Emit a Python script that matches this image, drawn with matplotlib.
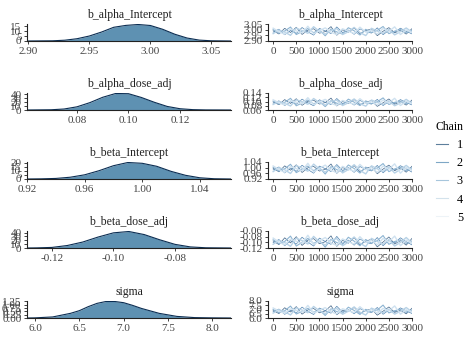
import numpy as np
import matplotlib
matplotlib.use("Agg")
import matplotlib.pyplot as plt
from matplotlib.lines import Line2D

plt.rcParams['font.family'] = ['Liberation Serif', 'DejaVu Serif']

params = ['b_alpha_Intercept', 'b_alpha_dose_adj', 'b_beta_Intercept', 'b_beta_dose_adj', 'sigma']

# density curves (x grid, density height)
dens_x = {
    'b_alpha_Intercept': [2.899, 2.92, 2.93, 2.94, 2.95, 2.96, 2.97, 2.98, 2.99, 3.00, 3.01, 3.02, 3.03, 3.04, 3.05, 3.066],
    'b_alpha_dose_adj': [0.0606, 0.07, 0.075, 0.08, 0.085, 0.09, 0.095, 0.10, 0.105, 0.11, 0.115, 0.12, 0.125, 0.13, 0.1398],
    'b_beta_Intercept': [0.92, 0.93, 0.94, 0.95, 0.96, 0.97, 0.98, 0.99, 1.00, 1.01, 1.02, 1.03, 1.04, 1.05, 1.0616],
    'b_beta_dose_adj': [-0.1281, -0.125, -0.12, -0.115, -0.11, -0.105, -0.10, -0.095, -0.09, -0.085, -0.08, -0.075, -0.07, -0.0618],
    'sigma': [5.91, 6.0, 6.2, 6.4, 6.5, 6.6, 6.7, 6.8, 6.9, 7.0, 7.1, 7.2, 7.4, 7.6, 7.8, 8.0, 8.21],
}
dens_y = {
    'b_alpha_Intercept': [0, 0.2, 0.8, 2.3, 5.0, 9.0, 13.8, 15.7, 16.6, 15.6, 11.8, 6.8, 3.0, 0.9, 0.2, 0],
    'b_alpha_dose_adj': [0, 0.6, 2.5, 8.0, 18.5, 32, 41.5, 41.0, 31.5, 19.5, 9.0, 3.2, 0.9, 0.2, 0],
    'b_beta_Intercept': [0, 0.2, 0.7, 2.2, 5.2, 10.3, 16.5, 20.5, 19.5, 15.8, 9.5, 4.6, 1.5, 0.3, 0],
    'b_beta_dose_adj': [0, 0.3, 1.5, 6.5, 15.5, 28.5, 39.5, 43.0, 35.0, 21.5, 9.5, 2.8, 0.6, 0],
    'sigma': [0, 0.01, 0.08, 0.35, 0.55, 0.85, 1.1, 1.24, 1.24, 1.15, 0.95, 0.72, 0.35, 0.12, 0.03, 0.01, 0],
}
dens_xticks = {
    'b_alpha_Intercept': [2.90, 2.95, 3.00, 3.05],
    'b_alpha_dose_adj': [0.08, 0.10, 0.12],
    'b_beta_Intercept': [0.92, 0.96, 1.00, 1.04],
    'b_beta_dose_adj': [-0.12, -0.10, -0.08],
    'sigma': [6.0, 6.5, 7.0, 7.5, 8.0],
}
dens_yticks = {
    'b_alpha_Intercept': [0, 5, 10, 15],
    'b_alpha_dose_adj': [0, 10, 20, 30, 40],
    'b_beta_Intercept': [0, 5, 10, 15, 20],
    'b_beta_dose_adj': [0, 10, 20, 30, 40],
    'sigma': [0.00, 0.25, 0.50, 0.75, 1.00, 1.25],
}
xfmt = {'b_alpha_Intercept': '%.2f', 'b_alpha_dose_adj': '%.2f', 'b_beta_Intercept': '%.2f',
        'b_beta_dose_adj': '%.2f', 'sigma': '%.1f'}
yfmt = {'b_alpha_Intercept': '%d', 'b_alpha_dose_adj': '%d', 'b_beta_Intercept': '%d',
        'b_beta_dose_adj': '%d', 'sigma': '%.2f'}

# trace panels: thinned chain values (5 chains each)
trace = {
    'b_alpha_Intercept': [
        [2.991, 2.962, 3.012, 2.975, 3.021, 2.958, 2.996, 3.008, 2.969, 2.983, 3.027, 2.951, 2.999, 2.978, 3.015, 2.964, 2.992, 3.005, 2.947, 2.986, 3.018, 2.972, 2.995, 2.961, 3.009],
        [2.978, 3.004, 2.955, 2.993, 2.967, 3.019, 2.981, 2.952, 3.011, 2.989, 2.966, 3.024, 2.974, 2.997, 2.959, 3.007, 2.983, 2.970, 3.016, 2.956, 2.994, 2.977, 3.013, 2.985, 2.963],
        [3.001, 2.969, 2.988, 3.023, 2.957, 2.984, 3.010, 2.973, 2.998, 2.946, 3.006, 2.980, 2.962, 3.017, 2.990, 2.953, 3.003, 2.976, 2.993, 3.028, 2.965, 2.987, 3.002, 2.971, 2.996],
        [2.965, 2.997, 2.979, 2.950, 3.014, 2.992, 2.968, 3.026, 2.985, 2.960, 2.994, 3.009, 2.957, 2.982, 3.020, 2.975, 2.948, 3.012, 2.988, 2.967, 3.004, 2.954, 2.983, 3.015, 2.979],
        [3.013, 2.982, 2.960, 3.006, 2.989, 2.972, 3.030, 2.963, 2.991, 3.016, 2.977, 2.958, 3.008, 2.986, 2.966, 3.022, 2.979, 2.995, 2.961, 3.011, 2.984, 3.025, 2.957, 2.998, 2.974],
    ],
    'b_alpha_dose_adj': [
        [0.098, 0.085, 0.109, 0.091, 0.113, 0.082, 0.101, 0.106, 0.088, 0.095, 0.116, 0.079, 0.100, 0.090, 0.110, 0.084, 0.097, 0.104, 0.077, 0.094, 0.112, 0.087, 0.099, 0.083, 0.107],
        [0.092, 0.103, 0.081, 0.099, 0.087, 0.111, 0.094, 0.080, 0.108, 0.096, 0.086, 0.114, 0.089, 0.101, 0.083, 0.105, 0.093, 0.088, 0.110, 0.081, 0.100, 0.091, 0.109, 0.095, 0.084],
        [0.102, 0.088, 0.096, 0.115, 0.080, 0.093, 0.107, 0.089, 0.100, 0.076, 0.104, 0.092, 0.085, 0.111, 0.097, 0.081, 0.103, 0.090, 0.099, 0.117, 0.086, 0.096, 0.102, 0.089, 0.098],
        [0.086, 0.100, 0.092, 0.079, 0.108, 0.099, 0.087, 0.114, 0.095, 0.083, 0.101, 0.106, 0.081, 0.094, 0.112, 0.090, 0.078, 0.107, 0.096, 0.086, 0.103, 0.080, 0.093, 0.110, 0.091],
        [0.108, 0.094, 0.084, 0.104, 0.097, 0.089, 0.118, 0.085, 0.098, 0.110, 0.091, 0.082, 0.105, 0.095, 0.087, 0.113, 0.092, 0.100, 0.084, 0.107, 0.094, 0.115, 0.081, 0.101, 0.090],
    ],
    'b_beta_Intercept': [
        [0.995, 0.971, 1.013, 0.982, 1.020, 0.966, 0.999, 1.009, 0.976, 0.988, 1.026, 0.960, 1.001, 0.984, 1.015, 0.970, 0.996, 1.006, 0.957, 0.990, 1.018, 0.979, 0.998, 0.968, 1.010],
        [0.984, 1.005, 0.963, 0.997, 0.974, 1.017, 0.987, 0.961, 1.011, 0.993, 0.973, 1.022, 0.980, 1.000, 0.967, 1.008, 0.988, 0.977, 1.016, 0.964, 0.998, 0.983, 1.014, 0.991, 0.969],
        [1.003, 0.976, 0.992, 1.024, 0.965, 0.989, 1.011, 0.979, 1.000, 0.955, 1.007, 0.986, 0.970, 1.019, 0.994, 0.962, 1.004, 0.981, 0.997, 1.029, 0.972, 0.991, 1.003, 0.977, 0.999],
        [0.972, 1.000, 0.985, 0.959, 1.015, 0.996, 0.975, 1.025, 0.990, 0.968, 0.998, 1.010, 0.963, 0.987, 1.021, 0.981, 0.956, 1.013, 0.992, 0.973, 1.006, 0.962, 0.988, 1.016, 0.983],
        [1.012, 0.987, 0.967, 1.007, 0.993, 0.978, 1.031, 0.969, 0.995, 1.018, 0.982, 0.964, 1.009, 0.990, 0.974, 1.023, 0.985, 1.001, 0.966, 1.012, 0.989, 1.027, 0.961, 1.002, 0.980],
    ],
    'b_beta_dose_adj': [
        [-0.095, -0.108, -0.084, -0.102, -0.080, -0.111, -0.092, -0.087, -0.105, -0.098, -0.077, -0.114, -0.093, -0.103, -0.083, -0.109, -0.096, -0.089, -0.116, -0.099, -0.081, -0.106, -0.094, -0.110, -0.086],
        [-0.101, -0.090, -0.112, -0.094, -0.106, -0.082, -0.099, -0.113, -0.085, -0.097, -0.107, -0.079, -0.104, -0.092, -0.110, -0.088, -0.100, -0.105, -0.083, -0.112, -0.093, -0.102, -0.084, -0.098, -0.109],
        [-0.091, -0.105, -0.097, -0.078, -0.113, -0.100, -0.086, -0.104, -0.093, -0.117, -0.089, -0.101, -0.108, -0.082, -0.096, -0.112, -0.090, -0.103, -0.094, -0.076, -0.107, -0.097, -0.091, -0.104, -0.095],
        [-0.107, -0.093, -0.101, -0.114, -0.085, -0.094, -0.106, -0.079, -0.098, -0.110, -0.092, -0.087, -0.112, -0.099, -0.081, -0.103, -0.115, -0.086, -0.097, -0.107, -0.090, -0.113, -0.100, -0.083, -0.102],
        [-0.085, -0.099, -0.109, -0.089, -0.096, -0.104, -0.075, -0.108, -0.095, -0.083, -0.102, -0.111, -0.088, -0.098, -0.106, -0.080, -0.101, -0.093, -0.109, -0.086, -0.099, -0.078, -0.112, -0.092, -0.103],
    ],
    'sigma': [
        [6.88, 6.52, 7.21, 6.71, 7.34, 6.45, 6.95, 7.12, 6.61, 6.83, 7.45, 6.38, 6.92, 6.74, 7.26, 6.55, 6.87, 7.06, 6.33, 6.80, 7.30, 6.66, 6.91, 6.49, 7.15],
        [6.76, 7.05, 6.43, 6.90, 6.59, 7.28, 6.79, 6.41, 7.17, 6.86, 6.57, 7.38, 6.69, 6.97, 6.50, 7.10, 6.81, 6.64, 7.24, 6.44, 6.93, 6.72, 7.19, 6.84, 6.53],
        [7.00, 6.63, 6.85, 7.40, 6.47, 6.78, 7.14, 6.67, 6.96, 6.30, 7.08, 6.75, 6.56, 7.27, 6.89, 6.42, 7.02, 6.70, 6.94, 7.52, 6.60, 6.86, 7.01, 6.65, 6.95],
        [6.58, 6.98, 6.73, 6.36, 7.20, 6.93, 6.62, 7.36, 6.84, 6.51, 6.97, 7.11, 6.44, 6.80, 7.31, 6.68, 6.35, 7.16, 6.87, 6.61, 7.04, 6.46, 6.79, 7.23, 6.72],
        [7.18, 6.82, 6.54, 7.07, 6.89, 6.68, 7.48, 6.57, 6.91, 7.22, 6.73, 6.48, 7.09, 6.85, 6.63, 7.33, 6.77, 6.99, 6.55, 7.13, 6.83, 7.42, 6.45, 6.97, 6.70],
    ],
}
trace_yticks = {
    'b_alpha_Intercept': [2.90, 2.95, 3.00, 3.05],
    'b_alpha_dose_adj': [0.06, 0.08, 0.10, 0.12, 0.14],
    'b_beta_Intercept': [0.92, 0.96, 1.00, 1.04],
    'b_beta_dose_adj': [-0.12, -0.10, -0.08, -0.06],
    'sigma': [6.0, 6.5, 7.0, 7.5, 8.0],
}
trace_xticks = [0, 500, 1000, 1500, 2000, 2500, 3000]
n_iter = 3000
chains = ['1', '2', '3', '4', '5']
chain_colors = ['#3d6185', '#4f82b0', '#8db4d2', '#b8d2e6', '#d0e2f0']
chain_lw = [0.5, 0.5, 0.8, 1.0, 1.0]
legend_colors = ['#5d7f9c', '#7ea7c6', '#a7c6dc', '#d3e2ec', '#edf3f7']

fill_col = '#5e91b2'
edge_col = '#0b2d52'

W, H = 474, 338
fig = plt.figure(figsize=(W / 100, H / 100), dpi=100)

def px_axes(x0, x1, ybot, h):
    return fig.add_axes([x0 / W, 1 - ybot / H, (x1 - x0) / W, h / H])

def style(ax):
    for s in ['top', 'right']:
        ax.spines[s].set_visible(False)
    for s in ['left', 'bottom']:
        ax.spines[s].set_linewidth(0.8)
        ax.spines[s].set_color('#222222')
    ax.tick_params(labelsize=8, length=2.5, width=0.6, pad=1.5, colors='#222222', labelcolor='#444444')

bottoms = [41, 110, 179, 248, 318]
for i, p in enumerate(params):
    yb = bottoms[i]
    # density
    ax = px_axes(27, 231, yb, 17)
    xs, ys = dens_x[p], dens_y[p]
    ax.fill_between(xs, 0, ys, color=fill_col, lw=0)
    ax.plot(xs, ys, color=edge_col, lw=0.8)
    ax.set_xlim(xs[0], xs[-1])
    ax.set_ylim(0, max(ys) * 1.03)
    ax.set_xticks(dens_xticks[p])
    ax.set_xticklabels([xfmt[p] % v for v in dens_xticks[p]])
    ax.set_yticks(dens_yticks[p])
    ax.set_yticklabels([yfmt[p] % v for v in dens_yticks[p]])
    style(ax)
    ax.set_title(p, fontsize=8.5, pad=4, color='#222222')

    # trace
    ax2 = px_axes(268, 412, yb, 17)
    for c, vals in enumerate(trace[p]):
        it = np.linspace(1, n_iter, len(vals))
        ax2.plot(it, vals, color=chain_colors[c], lw=chain_lw[c])
    tk = trace_yticks[p]
    ax2.set_xlim(-110, 3000)
    ax2.set_ylim(tk[0], tk[-1])
    ax2.set_xticks(trace_xticks)
    ax2.set_yticks(tk)
    ax2.set_yticklabels([('%.1f' if p == 'sigma' else '%.2f') % v for v in tk])
    style(ax2)
    ax2.set_title(p, fontsize=8.5, pad=4, color='#222222')

handles = [Line2D([0], [0], color=col, lw=0.8) for col in legend_colors]
leg = fig.legend(handles, chains, title='Chain', loc='center left',
                 bbox_to_anchor=(425 / W, 0.49), frameon=False, fontsize=8.8,
                 title_fontsize=8.5, handlelength=1.0, handletextpad=0.7,
                 labelspacing=0.5)
leg._legend_box.align = 'left'

fig.savefig('out.png', dpi=100)
